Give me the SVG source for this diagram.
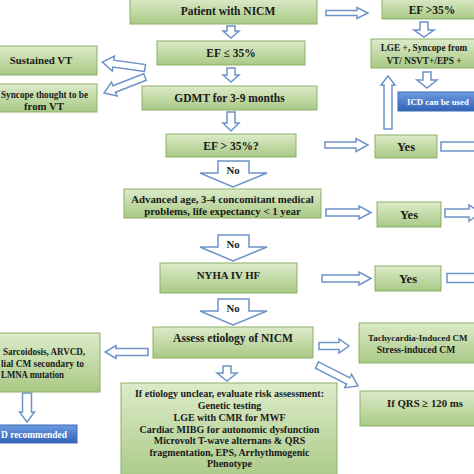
<svg xmlns="http://www.w3.org/2000/svg" width="474" height="474" viewBox="0 0 474 474">
<defs>
<linearGradient id="g" x1="0" y1="0" x2="0" y2="1">
<stop offset="0" stop-color="#dcebc9"/>
<stop offset="1" stop-color="#a9c985"/>
</linearGradient>
<linearGradient id="b" x1="0" y1="0" x2="0" y2="1">
<stop offset="0" stop-color="#6b9be0"/>
<stop offset="1" stop-color="#3363b6"/>
</linearGradient>
<style>
.box{fill:url(#g);stroke:#8db06a;stroke-width:1}
.blue{fill:url(#b);stroke:#3f6cb5;stroke-width:1}
.arr{fill:#fff;stroke:#6d93c7;stroke-width:1.5;stroke-linejoin:miter}
.t{font-family:"Liberation Serif",serif;font-weight:bold;fill:#1a1a1a;text-anchor:middle}
.st{text-anchor:start}
.w{fill:#fff}
.s12{font-size:12.5px}
.s11{font-size:11.5px}
.s10{font-size:10.8px}
.s9{font-size:10px}
.e9{font-size:9.3px}
</style>
</defs>
<rect width="474" height="474" fill="#fff"/>
<g id="connectors">
<polygon class="arr" points="326,10.5 357,10.5 357,7.5 368,13 357,18.5 357,15.5 326,15.5"/>
<polygon class="arr" points="227,26 235,26 235,31 239,31 231,38 223,31 227,31"/>
<polygon class="arr" points="227,68 235,68 235,75 239,75 231,82 223,75 227,75"/>
<polygon class="arr" points="227,112 235,112 235,123 239,123 231,131 223,123 227,123"/>
<polygon class="arr" points="420,22 428,22 428,30 434,30 424,37 414,30 420,30"/>
<polygon class="arr" points="423,72 431,72 431,80 437,80 427,88 417,80 423,80"/>
<polygon class="arr" points="384,129 392,129 392,85 395,85 388,76 381,85 384,85"/>
<polygon class="arr" points="325,142 356,142 356,138.5 368,145 356,151.5 356,148 325,148"/>
<polygon class="arr" points="441,142 482,142 482,136 492,146.5 482,157 482,151 441,151"/>
<polygon class="arr" points="326,209 359,209 359,206 371,212.5 359,219 359,216 326,216"/>
<polygon class="arr" points="445,209 469,209 469,205 481,213 469,221 469,217 445,217"/>
<polygon class="arr" points="322,275 359,275 359,272 371,278.5 359,285 359,282 322,282"/>
<polygon class="arr" points="447,273.5 484,273.5 484,268 494,278 484,288 484,282.5 447,282.5"/>
<polygon class="arr" points="148,348.5 116,348.5 116,345.5 105,352 116,358.5 116,355.5 148,355.5"/>
<polygon class="arr" points="319,342.5 339,342.5 339,339 349,346 339,353 339,349.5 319,349.5"/>
<polygon class="arr" points="223,366 231,366 231,373 237,373 227,381 217,373 223,373"/>
<polygon class="arr" points="22.5,393 31.5,393 31.5,412 34.5,412 27,422 19.5,412 22.5,412"/>
<polygon class="arr" transform="translate(145,68) rotate(187.9)" points="0,-3.5 32,-3.5 32,-7.5 43,0 32,7.5 32,3.5 0,3.5"/>
<polygon class="arr" transform="translate(145,77) rotate(158.7)" points="0,-3.5 33,-3.5 33,-7.5 44,0 33,7.5 33,3.5 0,3.5"/>
<polygon class="arr" transform="translate(317,365) rotate(27.1)" points="0,-3.5 35,-3.5 35,-7.5 46,0 35,7.5 35,3.5 0,3.5"/>
<g id="no1">
<polygon class="arr" points="218,161 249,161 249,173 267,173 233,187 200,173 218,173"/>
<text class="t s10" x="233" y="174">No</text>
</g>
<g id="no2">
<polygon class="arr" points="218,235 249,235 249,247 267,247 233,261 200,247 218,247"/>
<text class="t s10" x="233" y="248">No</text>
</g>
<g id="no3">
<polygon class="arr" points="218,299 249,299 249,311 267,311 233,325 200,311 218,311"/>
<text class="t s10" x="233" y="312">No</text>
</g>
</g>
<g id="patient">
<rect class="box" x="130" y="-2" width="187" height="26"/>
<text class="t s11" x="228" y="15">Patient with NICM</text>
</g>
<g id="ef-gt35-top">
<rect class="box" x="382" y="-2" width="101" height="21"/>
<text class="t s11" x="432" y="14">EF &gt;35%</text>
</g>
<g id="lge">
<rect class="box" x="371" y="39" width="112" height="29"/>
<text class="t e9" x="424" y="50.5">LGE +, Syncope from</text>
<text class="t e9" x="424" y="64">VT/ NSVT+/EPS +</text>
</g>
<g id="icd-used">
<rect class="blue" x="398" y="92" width="90" height="19"/>
<text class="t w st" x="407" y="105" style="font-size:8.8px">ICD can be used</text>
</g>
<g id="ef-le35">
<rect class="box" x="157" y="41" width="148" height="24"/>
<text class="t s11" x="231" y="57">EF ≤ 35%</text>
</g>
<g id="gdmt">
<rect class="box" x="142" y="86" width="175" height="24"/>
<text class="t s11" x="229.5" y="102">GDMT for 3-9 months</text>
</g>
<g id="sustained-vt">
<rect class="box" x="-5" y="46" width="102" height="29"/>
<text class="t s10" x="41" y="64">Sustained VT</text>
</g>
<g id="syncope">
<rect class="box" x="-5" y="84" width="102" height="28"/>
<text class="t s10 st" x="1" y="97.5" textLength="87" lengthAdjust="spacingAndGlyphs">Syncope thought to be</text>
<text class="t s10" x="44" y="109.5">from VT</text>
</g>
<g id="ef-gt35-q">
<rect class="box" x="166" y="134" width="130" height="23"/>
<text class="t s11" x="231" y="149.5">EF &gt; 35%?</text>
</g>
<g id="yes1">
<rect class="box" x="375" y="135" width="62" height="23"/>
<text class="t s12" x="406" y="150.5">Yes</text>
</g>
<g id="advanced">
<rect class="box" x="124" y="189" width="197" height="29"/>
<text class="t s10" x="222.5" y="203">Advanced age, 3-4 concomitant medical</text>
<text class="t s10" x="222.5" y="214.5">problems, life expectancy &lt; 1 year</text>
</g>
<g id="yes2">
<rect class="box" x="377" y="202" width="64" height="25"/>
<text class="t s12" x="409" y="218.5">Yes</text>
</g>
<g id="nyha">
<rect class="box" x="160" y="263" width="137" height="30"/>
<text class="t s10" x="228.5" y="279">NYHA IV HF</text>
</g>
<g id="yes3">
<rect class="box" x="375" y="266" width="66" height="25"/>
<text class="t s12" x="408" y="282.5">Yes</text>
</g>
<g id="assess">
<rect class="box" x="153" y="327" width="160" height="31"/>
<text class="t s11" x="233" y="342">Assess etiology of NICM</text>
</g>
<g id="sarcoidosis">
<rect class="box" x="-5" y="333" width="105" height="59"/>
<text class="t s10 st" x="3" y="354.5" textLength="82" lengthAdjust="spacingAndGlyphs">Sarcoidosis, ARVCD,</text>
<text class="t s10 st" x="1" y="366.5" textLength="83" lengthAdjust="spacingAndGlyphs">lial CM secondary to</text>
<text class="t s10 st" x="1" y="378" textLength="63" lengthAdjust="spacingAndGlyphs">LMNA mutation</text>
</g>
<g id="icd-recommended">
<rect class="blue" x="-5" y="425" width="82" height="18"/>
<text class="t s10 w st" x="1" y="437.5" textLength="66" lengthAdjust="spacingAndGlyphs">D recommended</text>
</g>
<g id="tachycardia">
<rect class="box" x="359" y="323" width="124" height="40"/>
<text class="t st" x="368" y="341" style="font-size:9px">Tachycardia-Induced CM</text>
<text class="t" x="416" y="353" style="font-size:9.6px">Stress-induced CM</text>
</g>
<g id="qrs">
<rect class="box" x="360" y="391" width="123" height="35"/>
<text class="t s10" x="425" y="407">If QRS ≥ 120 ms</text>
</g>
<g id="risk">
<rect class="box" x="121" y="383" width="216" height="100"/>
<text class="t s9" x="229.5" y="396.5">If etiology unclear, evaluate risk assessment:</text>
<text class="t s9" x="229.5" y="408.5">Genetic testing</text>
<text class="t s9" x="229.5" y="420.5">LGE with CMR for MWF</text>
<text class="t s9" x="229.5" y="432.5">Cardiac MIBG for autonomic dysfunction</text>
<text class="t s9" x="229.5" y="443.5">Microvolt T-wave alternans &amp; QRS</text>
<text class="t s9" x="229.5" y="455.5">fragmentation, EPS, Arrhythmogenic</text>
<text class="t s9" x="229.5" y="466.5">Phenotype</text>
</g>
</svg>
